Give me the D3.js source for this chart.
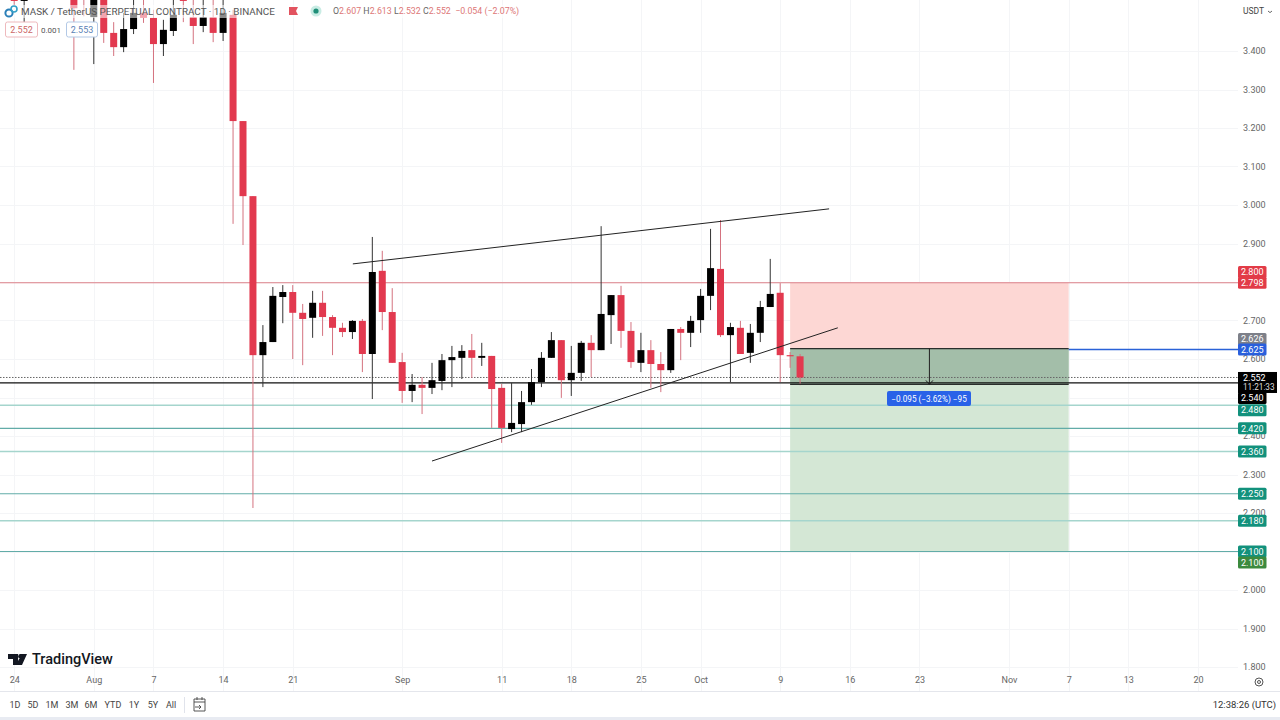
<!DOCTYPE html>
<html><head><meta charset="utf-8">
<script src="https://cdn.jsdelivr.net/npm/d3@7"></script>
<style>
html,body{margin:0;padding:0;background:#fff;overflow:hidden}
svg{display:block;font-family:Roboto,sans-serif}
</style></head><body>
<svg id="c" width="1280" height="720"></svg>
<script>
// one entry per day starting 2023-07-24; null = above the visible window
const firstDay = "2023-07-24";
const opens = [3.60,3.53,null,null,null,null,3.60,3.62,3.488,3.60,3.447,3.410,3.457,3.499,3.486,3.418,3.452,3.58,3.488,3.465,3.488,3.447,3.494,3.218,3.023,
2.610,2.644,2.761,2.774,2.720,2.707,2.746,2.709,2.681,2.670,2.699,2.613,2.829,2.722,2.592,2.517,2.533,2.525,2.543,2.597,2.603,2.623,2.603,2.608,2.525,
2.418,2.431,2.488,2.540,2.603,2.649,2.545,2.564,2.642,2.623,2.714,2.766,2.673,2.590,2.623,2.587,2.571,2.678,2.668,2.701,2.764,2.834,2.662,2.681,2.616,2.668,2.735,2.772,2.610,2.607];
const closes = [3.53,3.58,null,null,null,null,3.511,3.56,3.60,3.447,3.410,3.457,3.499,3.486,3.418,3.455,3.494,3.53,3.465,3.488,3.447,3.499,3.218,3.023,2.610,
2.644,2.764,2.774,2.720,2.704,2.746,2.709,2.681,2.670,2.699,2.613,2.826,2.722,2.590,2.517,2.533,2.525,2.545,2.597,2.605,2.621,2.603,2.608,2.522,2.421,
2.434,2.488,2.540,2.603,2.649,2.545,2.564,2.642,2.623,2.717,2.766,2.673,2.592,2.623,2.587,2.571,2.678,2.668,2.699,2.764,2.836,2.662,2.683,2.613,2.668,2.735,2.769,2.610,2.607,2.552];
const highs = [3.62,3.60,null,null,null,null,3.62,3.64,3.62,3.62,3.475,3.499,3.54,3.54,3.507,3.481,3.54,3.60,3.54,3.54,3.54,3.54,3.507,3.218,3.023,
2.688,2.787,2.792,2.792,2.743,2.777,2.777,2.714,2.694,2.701,2.704,2.917,2.881,2.784,2.616,2.561,2.553,2.590,2.613,2.634,2.636,2.665,2.642,2.608,2.535,
2.538,2.517,2.574,2.618,2.670,2.649,2.634,2.647,2.662,2.945,2.766,2.790,2.696,2.668,2.649,2.618,2.678,2.683,2.712,2.782,2.938,2.961,2.694,2.699,2.691,2.751,2.860,2.797,2.618,2.613];
const lows = [3.52,3.47,null,null,null,null,3.351,3.49,3.366,3.421,3.387,3.397,3.444,3.473,3.317,3.387,3.439,3.475,3.418,3.449,3.423,3.426,2.951,2.896,2.213,
2.527,2.644,2.693,2.600,2.584,2.655,2.660,2.610,2.657,2.652,2.566,2.496,2.675,2.590,2.486,2.488,2.457,2.509,2.519,2.527,2.548,2.551,2.582,2.421,2.382,
2.410,2.410,2.481,2.527,2.603,2.499,2.504,2.543,2.553,2.623,2.639,2.629,2.577,2.566,2.525,2.514,2.564,2.597,2.631,2.668,2.727,2.657,2.540,2.613,2.590,2.644,2.735,2.540,2.577,2.532];

const priceTicks = [3.4,3.3,3.2,3.1,3.0,2.9,2.8,2.7,2.6,2.5,2.4,2.3,2.2,2.1,2.0,1.9,1.8];
const timeTicks = ["2023-07-24","2023-08-01","2023-08-07","2023-08-14","2023-08-21","2023-09-01","2023-09-11","2023-09-18","2023-09-25","2023-10-01","2023-10-09","2023-10-16","2023-10-23","2023-11-01","2023-11-07","2023-11-13","2023-11-20"];
const rangeButtons = ["1D","5D","1M","3M","6M","YTD","1Y","5Y","All"];

const paleLevels = [2.48,2.36,2.18];
const darkLevels = [2.42,2.25,2.10];
const stopLevel = 2.798, blueLevel = 2.625, closeLevel = 2.552, blackLevel = 2.538;

const positionDates = ["2023-10-10","2023-11-07"];
const positionStop = 2.798, positionEntry = 2.627, positionTarget = 2.10, positionClose = 2.534;

const trendUpperDates = ["2023-08-27T01:00Z","2023-10-13T22:00Z"], trendUpperPrices = [2.847,2.990];
const trendLowerDates = ["2023-09-04T00:00Z","2023-10-14T19:00Z"], trendLowerPrices = [2.335,2.681];

const labelTexts = ["2.800","2.798","2.626","2.625","2.540","2.480","2.420","2.360","2.250","2.180","2.100","2.100"];
const labelPrices = [2.800,2.798,2.626,2.625,2.540,2.480,2.420,2.360,2.250,2.180,2.100,2.100];
const labelNudges = [-10,0,-10,0,16,5,0,0,0,0,0,11];
const labelFills = ["#e23b47","#e23b47","#7d8089","#2a5fdc","#000","#12917c","#12917c","#12917c","#12917c","#12917c","#12917c","#3c8a3e"];

const W = 1280, plotW = 1238, plotH = 691;
const x = d3.scaleUtc().domain([new Date("2023-07-24"),new Date("2023-11-20")]).range([14.2,1198]);
const y = d3.scaleLinear().domain([1.8,3.4]).range([667,51]);
const svg = d3.select("#c");
const red = "#e2394f", dark = "#000";

svg.append("defs").append("clipPath").attr("id","plot").append("rect").attr("width",plotW).attr("height",plotH);
const plot = svg.append("g").attr("clip-path","url(#plot)");

// grid
plot.append("g").selectAll("line").data(priceTicks).join("line")
 .attr("x1",0).attr("x2",plotW).attr("y1",d=>Math.round(y(d))+.5).attr("y2",d=>Math.round(y(d))+.5).attr("stroke","#f4f5f7");
plot.append("g").selectAll("line").data(timeTicks).join("line")
 .attr("x1",d=>Math.round(x(new Date(d)))+.5).attr("x2",d=>Math.round(x(new Date(d)))+.5).attr("y1",0).attr("y2",plotH).attr("stroke","#f4f5f7");

// short position box
const px0 = x(new Date(positionDates[0])), px1 = x(new Date(positionDates[1]));
plot.append("rect").attr("x",px0).attr("width",px1-px0).attr("y",y(positionStop)).attr("height",y(positionEntry)-y(positionStop)).attr("fill","#fdd7d4");
plot.append("rect").attr("x",px0).attr("width",px1-px0).attr("y",y(positionEntry)).attr("height",y(positionTarget)-y(positionEntry)).attr("fill","#d4e7d5");
plot.append("rect").attr("x",px0).attr("width",px1-px0).attr("y",y(positionEntry)).attr("height",y(positionClose)-y(positionEntry)).attr("fill","#a3bea9");

// horizontal levels
const hline = (p,c,w,x1=0,dash=null)=>plot.append("line").attr("x1",x1).attr("x2",plotW).attr("y1",y(p)).attr("y2",y(p)).attr("stroke",c).attr("stroke-width",w).attr("stroke-dasharray",dash);
paleLevels.forEach(p=>hline(p,"#a5d5cd",1.5));
darkLevels.forEach(p=>hline(p,"#62aca8",1.2));
hline(stopLevel,"#dc7f88",1.2);
hline(blueLevel,"#2a62d8",1.5,px1);
hline(closeLevel,"#666",1,0,"1.5,1.5");
hline(blackLevel,"#111",1.1);

// candles
const candles = opens.map((o,i)=>({date:d3.utcDay.offset(new Date(firstDay),i),o,c:closes[i],h:highs[i],l:lows[i]})).filter(d=>d.o!==null);
const cg = plot.append("g").selectAll("g").data(candles).join("g");
cg.append("line").attr("x1",d=>x(d.date)).attr("x2",d=>x(d.date)).attr("y1",d=>y(d.h)).attr("y2",d=>y(d.l))
 .attr("stroke",d=>d.c>=d.o?"#333":"#d4727f").attr("stroke-width",1);
cg.append("rect").attr("x",d=>x(d.date)-3.5).attr("width",7).attr("y",d=>y(Math.max(d.o,d.c)))
 .attr("height",d=>Math.max(1,Math.abs(y(d.o)-y(d.c)))).attr("fill",d=>d.c>=d.o?dark:red);

// position borders and arrow
[positionEntry,positionClose].forEach(p=>plot.append("line").attr("x1",px0).attr("x2",px1).attr("y1",y(p)).attr("y2",y(p)).attr("stroke","#2a2e2c").attr("stroke-width",1.3));
const ax = (px0+px1)/2;
plot.append("line").attr("x1",ax).attr("x2",ax).attr("y1",y(positionEntry)).attr("y2",y(positionClose)).attr("stroke","#222");
plot.append("path").attr("d",`M${ax-3.5},${y(positionClose)-4}L${ax},${y(positionClose)}L${ax+3.5},${y(positionClose)-4}`).attr("fill","none").attr("stroke","#222");
svg.append("rect").attr("x",887).attr("y",391).attr("width",84).attr("height",15).attr("rx",2).attr("fill","#2962e8");
svg.append("text").attr("x",929).attr("y",401.5).attr("text-anchor","middle").attr("font-size",8.2).attr("fill","#fff").text("−0.095 (−3.62%) −95");

// trend lines
const line = d3.line().x(d=>x(new Date(d[0]))).y(d=>y(d[1]));
plot.append("path").attr("d",line(d3.zip(trendUpperDates,trendUpperPrices))).attr("stroke","#222").attr("fill","none");
plot.append("path").attr("d",line(d3.zip(trendLowerDates,trendLowerPrices))).attr("stroke","#222").attr("fill","none");

// axes
const yAxis = d3.axisRight(y).tickValues(priceTicks).tickFormat(d3.format(".3f")).tickSize(0).tickPadding(0);
const ya = svg.append("g").attr("transform","translate(1243,0)").call(yAxis);
ya.select(".domain").remove();
ya.selectAll("text").attr("font-size",9).attr("fill","#666").attr("font-family","Roboto,sans-serif");
const fmt = d=>{const m=d.getUTCDate(); return m===1?d3.utcFormat("%b")(d):String(m)};
const xAxis = d3.axisBottom(x).tickValues(timeTicks.map(d=>new Date(d))).tickFormat(fmt).tickSize(0).tickPadding(0);
const xa = svg.append("g").attr("transform","translate(0,677)").call(xAxis);
xa.select(".domain").remove();
xa.selectAll("text").attr("font-size",9).attr("fill","#666").attr("font-family","Roboto,sans-serif");

// price labels
const lab = svg.append("g").selectAll("g").data(labelTexts).join("g")
 .attr("transform",(d,i)=>`translate(1238,${y(labelPrices[i])+labelNudges[i]})`);
lab.append("rect").attr("x",0).attr("y",-6).attr("width",28.5).attr("height",12).attr("rx",1.5).attr("fill",(d,i)=>labelFills[i]);
lab.append("text").attr("x",14.2).attr("y",3.2).attr("text-anchor","middle").attr("font-size",9).attr("fill","#fff").text(d=>d);
// last-price label with countdown
const ly = y(closeLevel);
svg.append("rect").attr("x",1238).attr("y",ly-5.5).attr("width",39).attr("height",21).attr("fill","#000");
svg.append("text").attr("x",1243).attr("y",ly+4).attr("font-size",9).attr("fill","#fff").text("2.552");
svg.append("text").attr("x",1243).attr("y",ly+12.5).attr("font-size",8.2).attr("fill","#ddd").text("11:21:33");

// USDT button
svg.append("rect").attr("x",1240).attr("y",3).attr("width",32).attr("height",16).attr("fill","#fff");
svg.append("text").attr("x",1243).attr("y",14).attr("font-size",8.5).attr("fill","#444").text("USDT");
svg.append("path").attr("d","M1268,11l2,1.6l2,-1.6").attr("fill","none").attr("stroke","#666");

// legend
svg.append("rect").attr("x",0).attr("y",5).attr("width",530).attr("height",13).attr("fill","#fff").attr("opacity",.55);
svg.append("circle").attr("cx",9).attr("cy",13).attr("r",3.6).attr("fill","none").attr("stroke","#2b7fb8").attr("stroke-width",2);
svg.append("circle").attr("cx",14).attr("cy",9).attr("r",3).attr("fill","none").attr("stroke","#35a0c8").attr("stroke-width",1.6);
svg.append("text").attr("x",21).attr("y",15).attr("font-size",9.9).attr("fill","#555").text("MASK / TetherUS PERPETUAL CONTRACT · 1D · BINANCE");
svg.append("path").attr("d","M289,7h9l-2,4l2,4h-9z").attr("fill","#e2535f");
svg.append("circle").attr("cx",316).attr("cy",11).attr("r",5.5).attr("fill","#c9ece4");
svg.append("circle").attr("cx",316).attr("cy",11).attr("r",2.6).attr("fill","#1f8f78");
const ohlc = svg.append("text").attr("x",333).attr("y",14).attr("font-size",8.8);
[["O","#666"],["2.607 ","#d77"],["H","#666"],["2.613 ","#d77"],["L","#666"],["2.532 ","#d77"],["C","#666"],["2.552 ","#d77"],[" −0.054 (−2.07%)","#d77"]]
 .forEach(([t,c])=>ohlc.append("tspan").attr("fill",c).attr("xml:space","preserve").text(t));
const chip=(xp,w,stroke,col,t)=>{svg.append("rect").attr("x",xp).attr("y",22).attr("width",w).attr("height",15).attr("rx",2).attr("fill","#fff").attr("stroke",stroke);
 svg.append("text").attr("x",xp+w/2).attr("y",33).attr("text-anchor","middle").attr("font-size",9).attr("fill",col).text(t);};
chip(5.5,32,"#eeb9bd","#c66","2.552");
svg.append("text").attr("x",51).attr("y",33).attr("text-anchor","middle").attr("font-size",8).attr("fill","#555").text("0.001");
chip(66.5,31,"#b3c9e6","#5b82b5","2.553");

// TradingView mark
svg.append("path").attr("d","M8,654h10v11h-5v-6h-5zM20,654h7l-5,11h-6l3,-6h1z").attr("fill","#131722");
svg.append("circle").attr("cx",20.5).attr("cy",656.5).attr("r",2.4).attr("fill","#131722");
svg.append("text").attr("x",32).attr("y",663.5).attr("font-size",14.5).attr("font-weight",500).attr("fill","#131722").text("TradingView");

// bottom bar
svg.append("line").attr("x1",0).attr("x2",W).attr("y1",691.5).attr("y2",691.5).attr("stroke","#e4e6ec");
svg.append("rect").attr("x",0).attr("y",717).attr("width",W).attr("height",3).attr("fill","#e8ebf2");
const buttonX = d3.scaleOrdinal().domain(rangeButtons).range([15,33,52,72,91,113,134,153,171]);
svg.append("g").selectAll("text").data(rangeButtons).join("text")
 .attr("x",d=>buttonX(d)).attr("y",708).attr("text-anchor","middle").attr("font-size",9).attr("fill","#444").text(d=>d);
svg.append("line").attr("x1",184.5).attr("x2",184.5).attr("y1",697).attr("y2",713).attr("stroke","#e0e3eb");
svg.append("path").attr("d","M194,699h11v12h-11zM194,702h11M197,697v3M202,697v3M195,707h6M199,705l2,2l-2,2").attr("fill","none").attr("stroke","#444").attr("stroke-width",.9);
svg.append("text").attr("x",1276).attr("y",708).attr("text-anchor","end").attr("font-size",9.5).attr("fill","#333").text("12:38:26 (UTC)");
svg.append("circle").attr("cx",1259).attr("cy",682).attr("r",4).attr("fill","none").attr("stroke","#555");
svg.append("circle").attr("cx",1259).attr("cy",682).attr("r",1.5).attr("fill","none").attr("stroke","#555");
</script></body></html>
